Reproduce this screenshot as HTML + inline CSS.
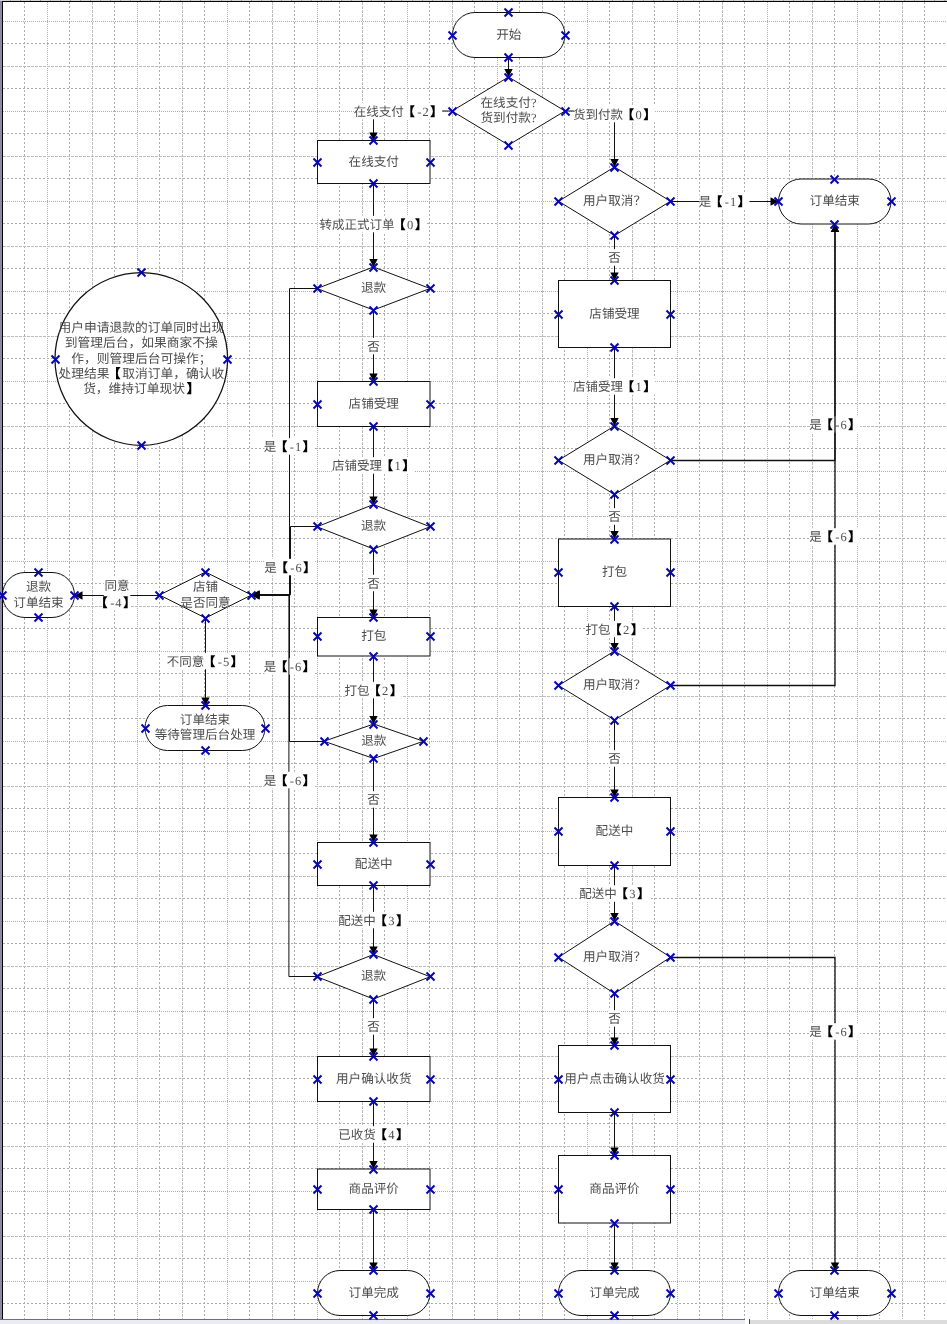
<!DOCTYPE html><html lang="zh-CN"><head><meta charset="utf-8"><title>订单流程图</title>
<style>html,body{margin:0;padding:0;background:#fff;}body{width:947px;height:1324px;overflow:hidden;position:relative;font-family:"Liberation Serif",serif;}svg{position:absolute;left:0;top:0;display:block;}.b{fill:#000;font-weight:bold;}text{filter:grayscale(1);font-family:"Liberation Serif",serif;text-anchor:middle;dominant-baseline:central;text-rendering:geometricPrecision;}</style></head><body>
<svg width="947" height="1324" viewBox="0 0 947 1324">
<rect x="0" y="0" width="947" height="1324" fill="#fff"/>
<g stroke-width="1" fill="none" shape-rendering="crispEdges"><line x1="24.5" y1="2" x2="24.5" y2="1319" stroke="#adadad" stroke-dasharray="2 2"/><line x1="47.5" y1="2" x2="47.5" y2="1319" stroke="#adadad" stroke-dasharray="1 1"/><line x1="69.5" y1="2" x2="69.5" y2="1319" stroke="#adadad" stroke-dasharray="2 2"/><line x1="92.5" y1="2" x2="92.5" y2="1319" stroke="#bcbcbc" stroke-dasharray="3 1"/><line x1="114.5" y1="2" x2="114.5" y2="1319" stroke="#adadad" stroke-dasharray="2 2"/><line x1="137.5" y1="2" x2="137.5" y2="1319" stroke="#adadad" stroke-dasharray="1 1"/><line x1="159.5" y1="2" x2="159.5" y2="1319" stroke="#adadad" stroke-dasharray="2 2"/><line x1="182.5" y1="2" x2="182.5" y2="1319" stroke="#bcbcbc" stroke-dasharray="3 1"/><line x1="204.5" y1="2" x2="204.5" y2="1319" stroke="#adadad" stroke-dasharray="2 2"/><line x1="227.5" y1="2" x2="227.5" y2="1319" stroke="#adadad" stroke-dasharray="1 1"/><line x1="249.5" y1="2" x2="249.5" y2="1319" stroke="#adadad" stroke-dasharray="2 2"/><line x1="272.5" y1="2" x2="272.5" y2="1319" stroke="#bcbcbc" stroke-dasharray="3 1"/><line x1="294.5" y1="2" x2="294.5" y2="1319" stroke="#adadad" stroke-dasharray="2 2"/><line x1="317.5" y1="2" x2="317.5" y2="1319" stroke="#adadad" stroke-dasharray="1 1"/><line x1="339.5" y1="2" x2="339.5" y2="1319" stroke="#adadad" stroke-dasharray="2 2"/><line x1="362.5" y1="2" x2="362.5" y2="1319" stroke="#bcbcbc" stroke-dasharray="3 1"/><line x1="384.5" y1="2" x2="384.5" y2="1319" stroke="#adadad" stroke-dasharray="2 2"/><line x1="407.5" y1="2" x2="407.5" y2="1319" stroke="#adadad" stroke-dasharray="1 1"/><line x1="429.5" y1="2" x2="429.5" y2="1319" stroke="#adadad" stroke-dasharray="2 2"/><line x1="452.5" y1="2" x2="452.5" y2="1319" stroke="#bcbcbc" stroke-dasharray="3 1"/><line x1="474.5" y1="2" x2="474.5" y2="1319" stroke="#adadad" stroke-dasharray="2 2"/><line x1="497.5" y1="2" x2="497.5" y2="1319" stroke="#adadad" stroke-dasharray="1 1"/><line x1="519.5" y1="2" x2="519.5" y2="1319" stroke="#adadad" stroke-dasharray="2 2"/><line x1="542.5" y1="2" x2="542.5" y2="1319" stroke="#bcbcbc" stroke-dasharray="3 1"/><line x1="564.5" y1="2" x2="564.5" y2="1319" stroke="#adadad" stroke-dasharray="2 2"/><line x1="587.5" y1="2" x2="587.5" y2="1319" stroke="#adadad" stroke-dasharray="1 1"/><line x1="609.5" y1="2" x2="609.5" y2="1319" stroke="#adadad" stroke-dasharray="2 2"/><line x1="632.5" y1="2" x2="632.5" y2="1319" stroke="#bcbcbc" stroke-dasharray="3 1"/><line x1="654.5" y1="2" x2="654.5" y2="1319" stroke="#adadad" stroke-dasharray="2 2"/><line x1="677.5" y1="2" x2="677.5" y2="1319" stroke="#adadad" stroke-dasharray="1 1"/><line x1="699.5" y1="2" x2="699.5" y2="1319" stroke="#adadad" stroke-dasharray="2 2"/><line x1="722.5" y1="2" x2="722.5" y2="1319" stroke="#bcbcbc" stroke-dasharray="3 1"/><line x1="744.5" y1="2" x2="744.5" y2="1319" stroke="#adadad" stroke-dasharray="2 2"/><line x1="767.5" y1="2" x2="767.5" y2="1319" stroke="#adadad" stroke-dasharray="1 1"/><line x1="789.5" y1="2" x2="789.5" y2="1319" stroke="#adadad" stroke-dasharray="2 2"/><line x1="812.5" y1="2" x2="812.5" y2="1319" stroke="#bcbcbc" stroke-dasharray="3 1"/><line x1="834.5" y1="2" x2="834.5" y2="1319" stroke="#adadad" stroke-dasharray="2 2"/><line x1="857.5" y1="2" x2="857.5" y2="1319" stroke="#adadad" stroke-dasharray="1 1"/><line x1="879.5" y1="2" x2="879.5" y2="1319" stroke="#adadad" stroke-dasharray="2 2"/><line x1="902.5" y1="2" x2="902.5" y2="1319" stroke="#bcbcbc" stroke-dasharray="3 1"/><line x1="924.5" y1="2" x2="924.5" y2="1319" stroke="#adadad" stroke-dasharray="2 2"/><line x1="3" y1="21.5" x2="947" y2="21.5" stroke="#adadad" stroke-dasharray="1 1"/><line x1="3" y1="43.5" x2="947" y2="43.5" stroke="#adadad" stroke-dasharray="2 2"/><line x1="3" y1="66.5" x2="947" y2="66.5" stroke="#bcbcbc" stroke-dasharray="3 1"/><line x1="3" y1="88.5" x2="947" y2="88.5" stroke="#adadad" stroke-dasharray="2 2"/><line x1="3" y1="111.5" x2="947" y2="111.5" stroke="#adadad" stroke-dasharray="1 1"/><line x1="3" y1="133.5" x2="947" y2="133.5" stroke="#adadad" stroke-dasharray="2 2"/><line x1="3" y1="156.5" x2="947" y2="156.5" stroke="#bcbcbc" stroke-dasharray="3 1"/><line x1="3" y1="178.5" x2="947" y2="178.5" stroke="#adadad" stroke-dasharray="2 2"/><line x1="3" y1="201.5" x2="947" y2="201.5" stroke="#adadad" stroke-dasharray="1 1"/><line x1="3" y1="223.5" x2="947" y2="223.5" stroke="#adadad" stroke-dasharray="2 2"/><line x1="3" y1="246.5" x2="947" y2="246.5" stroke="#bcbcbc" stroke-dasharray="3 1"/><line x1="3" y1="268.5" x2="947" y2="268.5" stroke="#adadad" stroke-dasharray="2 2"/><line x1="3" y1="291.5" x2="947" y2="291.5" stroke="#adadad" stroke-dasharray="1 1"/><line x1="3" y1="313.5" x2="947" y2="313.5" stroke="#adadad" stroke-dasharray="2 2"/><line x1="3" y1="336.5" x2="947" y2="336.5" stroke="#bcbcbc" stroke-dasharray="3 1"/><line x1="3" y1="358.5" x2="947" y2="358.5" stroke="#adadad" stroke-dasharray="2 2"/><line x1="3" y1="381.5" x2="947" y2="381.5" stroke="#adadad" stroke-dasharray="1 1"/><line x1="3" y1="403.5" x2="947" y2="403.5" stroke="#adadad" stroke-dasharray="2 2"/><line x1="3" y1="426.5" x2="947" y2="426.5" stroke="#bcbcbc" stroke-dasharray="3 1"/><line x1="3" y1="448.5" x2="947" y2="448.5" stroke="#adadad" stroke-dasharray="2 2"/><line x1="3" y1="471.5" x2="947" y2="471.5" stroke="#adadad" stroke-dasharray="1 1"/><line x1="3" y1="493.5" x2="947" y2="493.5" stroke="#adadad" stroke-dasharray="2 2"/><line x1="3" y1="516.5" x2="947" y2="516.5" stroke="#bcbcbc" stroke-dasharray="3 1"/><line x1="3" y1="538.5" x2="947" y2="538.5" stroke="#adadad" stroke-dasharray="2 2"/><line x1="3" y1="561.5" x2="947" y2="561.5" stroke="#adadad" stroke-dasharray="1 1"/><line x1="3" y1="583.5" x2="947" y2="583.5" stroke="#adadad" stroke-dasharray="2 2"/><line x1="3" y1="606.5" x2="947" y2="606.5" stroke="#bcbcbc" stroke-dasharray="3 1"/><line x1="3" y1="628.5" x2="947" y2="628.5" stroke="#adadad" stroke-dasharray="2 2"/><line x1="3" y1="651.5" x2="947" y2="651.5" stroke="#adadad" stroke-dasharray="1 1"/><line x1="3" y1="673.5" x2="947" y2="673.5" stroke="#adadad" stroke-dasharray="2 2"/><line x1="3" y1="696.5" x2="947" y2="696.5" stroke="#bcbcbc" stroke-dasharray="3 1"/><line x1="3" y1="718.5" x2="947" y2="718.5" stroke="#adadad" stroke-dasharray="2 2"/><line x1="3" y1="741.5" x2="947" y2="741.5" stroke="#adadad" stroke-dasharray="1 1"/><line x1="3" y1="763.5" x2="947" y2="763.5" stroke="#adadad" stroke-dasharray="2 2"/><line x1="3" y1="786.5" x2="947" y2="786.5" stroke="#bcbcbc" stroke-dasharray="3 1"/><line x1="3" y1="808.5" x2="947" y2="808.5" stroke="#adadad" stroke-dasharray="2 2"/><line x1="3" y1="831.5" x2="947" y2="831.5" stroke="#adadad" stroke-dasharray="1 1"/><line x1="3" y1="853.5" x2="947" y2="853.5" stroke="#adadad" stroke-dasharray="2 2"/><line x1="3" y1="876.5" x2="947" y2="876.5" stroke="#bcbcbc" stroke-dasharray="3 1"/><line x1="3" y1="898.5" x2="947" y2="898.5" stroke="#adadad" stroke-dasharray="2 2"/><line x1="3" y1="921.5" x2="947" y2="921.5" stroke="#adadad" stroke-dasharray="1 1"/><line x1="3" y1="943.5" x2="947" y2="943.5" stroke="#adadad" stroke-dasharray="2 2"/><line x1="3" y1="966.5" x2="947" y2="966.5" stroke="#bcbcbc" stroke-dasharray="3 1"/><line x1="3" y1="988.5" x2="947" y2="988.5" stroke="#adadad" stroke-dasharray="2 2"/><line x1="3" y1="1011.5" x2="947" y2="1011.5" stroke="#adadad" stroke-dasharray="1 1"/><line x1="3" y1="1033.5" x2="947" y2="1033.5" stroke="#adadad" stroke-dasharray="2 2"/><line x1="3" y1="1056.5" x2="947" y2="1056.5" stroke="#bcbcbc" stroke-dasharray="3 1"/><line x1="3" y1="1078.5" x2="947" y2="1078.5" stroke="#adadad" stroke-dasharray="2 2"/><line x1="3" y1="1101.5" x2="947" y2="1101.5" stroke="#adadad" stroke-dasharray="1 1"/><line x1="3" y1="1123.5" x2="947" y2="1123.5" stroke="#adadad" stroke-dasharray="2 2"/><line x1="3" y1="1146.5" x2="947" y2="1146.5" stroke="#bcbcbc" stroke-dasharray="3 1"/><line x1="3" y1="1168.5" x2="947" y2="1168.5" stroke="#adadad" stroke-dasharray="2 2"/><line x1="3" y1="1191.5" x2="947" y2="1191.5" stroke="#adadad" stroke-dasharray="1 1"/><line x1="3" y1="1213.5" x2="947" y2="1213.5" stroke="#adadad" stroke-dasharray="2 2"/><line x1="3" y1="1236.5" x2="947" y2="1236.5" stroke="#bcbcbc" stroke-dasharray="3 1"/><line x1="3" y1="1258.5" x2="947" y2="1258.5" stroke="#adadad" stroke-dasharray="2 2"/><line x1="3" y1="1281.5" x2="947" y2="1281.5" stroke="#adadad" stroke-dasharray="1 1"/><line x1="3" y1="1303.5" x2="947" y2="1303.5" stroke="#adadad" stroke-dasharray="2 2"/></g>
<g stroke="#111" stroke-width="1" fill="#fff"><rect x="452.5" y="12.5" width="112.5" height="45.0" rx="22.5" ry="22.5"/><polygon points="508.5,77.0 565.0,111.0 508.5,145.0 452.0,111.0"/><rect x="317.5" y="140.5" width="112.5" height="43.0"/><polygon points="373.5,267.0 430.0,288.5 373.5,310.0 317.0,288.5"/><rect x="317.5" y="381.5" width="112.5" height="45.0"/><polygon points="373.5,504.5 430.0,526.75 373.5,549.0 317.0,526.75"/><rect x="317.5" y="617.5" width="112.5" height="38.5"/><polygon points="373.75,724.0 423.5,741.25 373.75,758.5 324.0,741.25"/><rect x="317.5" y="842.5" width="112.5" height="43.0"/><polygon points="373.5,954.5 430.0,976.75 373.5,999.0 317.0,976.75"/><rect x="317.5" y="1056.5" width="112.5" height="45.0"/><rect x="317.5" y="1169.0" width="112.5" height="40.5"/><rect x="317.5" y="1270.5" width="112.5" height="45.0" rx="22.5" ry="22.5"/><polygon points="614.5,167.0 670.5,201.25 614.5,235.5 558.5,201.25"/><rect x="558.5" y="280.5" width="112.0" height="67.0"/><polygon points="614.5,426.0 670.5,460.25 614.5,494.5 558.5,460.25"/><rect x="558.5" y="539.0" width="112.0" height="67.5"/><polygon points="614.5,651.0 670.5,685.5 614.5,720.0 558.5,685.5"/><rect x="558.5" y="797.5" width="112.0" height="68.0"/><polygon points="614.5,921.0 670.5,957.25 614.5,993.5 558.5,957.25"/><rect x="558.5" y="1045.5" width="112.0" height="67.0"/><rect x="558.5" y="1155.5" width="112.0" height="67.5"/><rect x="558.5" y="1270.5" width="112.0" height="45.0" rx="22.5" ry="22.5"/><rect x="778.5" y="179.0" width="112.5" height="45.0" rx="22.5" ry="22.5"/><rect x="778.5" y="1270.5" width="112.5" height="45.0" rx="22.5" ry="22.5"/><circle cx="141.3" cy="359.0" r="86.3" stroke-width="1.25"/><polygon points="205.5,572.0 251.5,595.0 205.5,618.0 159.5,595.0"/><rect x="2.5" y="572.5" width="72.0" height="45.0" rx="22.5" ry="22.5"/><rect x="145.0" y="705.5" width="120.0" height="45.0" rx="22.5" ry="22.5"/></g>
<g><path d="M508.5,57.5 L508.5,77" fill="none" stroke="#111" stroke-width="1"/><polygon fill="#000" stroke="none" points="508.50,77.00 504.30,69.00 512.70,69.00"/><path d="M452,111 L373.5,111 L373.5,140.5" fill="none" stroke="#111" stroke-width="1"/><polygon fill="#000" stroke="none" points="373.50,140.50 369.30,132.50 377.70,132.50"/><rect x="354.6" y="102.8" width="87.5" height="16.5" fill="#fff"/><text x="398.3" y="111.60" font-size="12.5" fill="#4e4e4e">在线支付<tspan class="b" dx="-1.6">【</tspan><tspan dx="2.6">-</tspan><tspan dx="1">2</tspan><tspan class="b" dx="1.6">】</tspan></text><path d="M373.5,183.5 L373.5,267" fill="none" stroke="#111" stroke-width="1"/><polygon fill="#000" stroke="none" points="373.50,267.00 369.30,259.00 377.70,259.00"/><rect x="320.4" y="215.8" width="106.2" height="16.5" fill="#fff"/><text x="373.5" y="224.60" font-size="12.5" fill="#4e4e4e">转成正式订单<tspan class="b" dx="-1.6">【</tspan><tspan dx="1.6">0</tspan><tspan class="b" dx="1.6">】</tspan></text><path d="M373.5,310 L373.5,381.5" fill="none" stroke="#111" stroke-width="1"/><polygon fill="#000" stroke="none" points="373.50,381.50 369.30,373.50 377.70,373.50"/><rect x="367.2" y="337.8" width="12.5" height="16.5" fill="#fff"/><text x="373.5" y="346.60" font-size="12.5" fill="#4e4e4e">否</text><path d="M373.5,426.5 L373.5,504.5" fill="none" stroke="#111" stroke-width="1"/><polygon fill="#000" stroke="none" points="373.50,504.50 369.30,496.50 377.70,496.50"/><rect x="332.9" y="457.2" width="81.2" height="16.5" fill="#fff"/><text x="373.5" y="466.10" font-size="12.5" fill="#4e4e4e">店铺受理<tspan class="b" dx="-1.6">【</tspan><tspan dx="1.6">1</tspan><tspan class="b" dx="1.6">】</tspan></text><path d="M373.5,549 L373.5,617.5" fill="none" stroke="#111" stroke-width="1"/><polygon fill="#000" stroke="none" points="373.50,617.50 369.30,609.50 377.70,609.50"/><rect x="367.2" y="574.8" width="12.5" height="16.5" fill="#fff"/><text x="373.5" y="583.60" font-size="12.5" fill="#4e4e4e">否</text><path d="M373.5,656 L373.5,724" fill="none" stroke="#111" stroke-width="1"/><polygon fill="#000" stroke="none" points="373.50,724.00 369.30,716.00 377.70,716.00"/><rect x="345.4" y="681.8" width="56.2" height="16.5" fill="#fff"/><text x="373.5" y="690.60" font-size="12.5" fill="#4e4e4e">打包<tspan class="b" dx="-1.6">【</tspan><tspan dx="1.6">2</tspan><tspan class="b" dx="1.6">】</tspan></text><path d="M373.5,758.5 L373.5,842.5" fill="none" stroke="#111" stroke-width="1"/><polygon fill="#000" stroke="none" points="373.50,842.50 369.30,834.50 377.70,834.50"/><rect x="367.2" y="791.2" width="12.5" height="16.5" fill="#fff"/><text x="373.5" y="800.10" font-size="12.5" fill="#4e4e4e">否</text><path d="M373.5,885.5 L373.5,954.5" fill="none" stroke="#111" stroke-width="1"/><polygon fill="#000" stroke="none" points="373.50,954.50 369.30,946.50 377.70,946.50"/><rect x="339.1" y="911.8" width="68.8" height="16.5" fill="#fff"/><text x="373.5" y="920.60" font-size="12.5" fill="#4e4e4e">配送中<tspan class="b" dx="-1.6">【</tspan><tspan dx="1.6">3</tspan><tspan class="b" dx="1.6">】</tspan></text><path d="M373.5,999 L373.5,1056.5" fill="none" stroke="#111" stroke-width="1"/><polygon fill="#000" stroke="none" points="373.50,1056.50 369.30,1048.50 377.70,1048.50"/><rect x="367.2" y="1018.2" width="12.5" height="16.5" fill="#fff"/><text x="373.5" y="1027.10" font-size="12.5" fill="#4e4e4e">否</text><path d="M373.5,1101.5 L373.5,1169" fill="none" stroke="#111" stroke-width="1"/><polygon fill="#000" stroke="none" points="373.50,1169.00 369.30,1161.00 377.70,1161.00"/><rect x="339.1" y="1126.2" width="68.8" height="16.5" fill="#fff"/><text x="373.5" y="1135.10" font-size="12.5" fill="#4e4e4e">已收货<tspan class="b" dx="-1.6">【</tspan><tspan dx="1.6">4</tspan><tspan class="b" dx="1.6">】</tspan></text><path d="M373.5,1209.5 L373.5,1270.5" fill="none" stroke="#111" stroke-width="1"/><polygon fill="#000" stroke="none" points="373.50,1270.50 369.30,1262.50 377.70,1262.50"/><path d="M317,288.5 L289.5,288.5 L289.5,595.5 L251.5,595.5" fill="none" stroke="#111" stroke-width="1"/><polygon fill="#000" stroke="none" points="251.50,595.50 259.50,591.30 259.50,599.70"/><rect x="264.5" y="438.2" width="50.0" height="16.5" fill="#fff"/><text x="289.5" y="447.10" font-size="12.5" fill="#4e4e4e">是<tspan class="b" dx="-1.6">【</tspan><tspan dx="2.6">-</tspan><tspan dx="1">1</tspan><tspan class="b" dx="1.6">】</tspan></text><path d="M317,526.5 L290.5,526.5 L290.5,594.8 L251.5,594.8" fill="none" stroke="#111" stroke-width="1"/><polygon fill="#000" stroke="none" points="251.50,594.80 259.50,590.60 259.50,599.00"/><rect x="265.0" y="558.8" width="50.0" height="16.5" fill="#fff"/><text x="290" y="567.60" font-size="12.5" fill="#4e4e4e">是<tspan class="b" dx="-1.6">【</tspan><tspan dx="2.6">-</tspan><tspan dx="1">6</tspan><tspan class="b" dx="1.6">】</tspan></text><path d="M324,741.5 L289.5,741.5 L289.5,594.5 L251.5,594.5" fill="none" stroke="#111" stroke-width="1"/><polygon fill="#000" stroke="none" points="251.50,594.50 259.50,590.30 259.50,598.70"/><rect x="264.5" y="658.2" width="50.0" height="16.5" fill="#fff"/><text x="289.5" y="667.10" font-size="12.5" fill="#4e4e4e">是<tspan class="b" dx="-1.6">【</tspan><tspan dx="2.6">-</tspan><tspan dx="1">6</tspan><tspan class="b" dx="1.6">】</tspan></text><path d="M317,976.5 L288.9,976.5 L288.9,595 L251.5,595" fill="none" stroke="#111" stroke-width="1"/><polygon fill="#000" stroke="none" points="251.50,595.00 259.50,590.80 259.50,599.20"/><rect x="264.5" y="771.8" width="50.0" height="16.5" fill="#fff"/><text x="289.5" y="780.60" font-size="12.5" fill="#4e4e4e">是<tspan class="b" dx="-1.6">【</tspan><tspan dx="2.6">-</tspan><tspan dx="1">6</tspan><tspan class="b" dx="1.6">】</tspan></text><path d="M159.5,595.5 L74.5,595.5" fill="none" stroke="#111" stroke-width="1"/><polygon fill="#000" stroke="none" points="74.50,595.50 82.50,591.30 82.50,599.70"/><rect x="103.8" y="577.5" width="26.5" height="33" fill="#fff"/><text x="117" y="586.10" font-size="12.5" fill="#4e4e4e">同意</text><text x="117" y="603.10" font-size="12.5" fill="#4e4e4e"><tspan class="b" dx="-1.6">【</tspan><tspan dx="2.6">-</tspan><tspan dx="1">4</tspan><tspan class="b" dx="1.6">】</tspan></text><path d="M205.5,618 L205.5,705.5" fill="none" stroke="#111" stroke-width="1"/><polygon fill="#000" stroke="none" points="205.50,705.50 201.30,697.50 209.70,697.50"/><rect x="167.5" y="652.8" width="75.0" height="16.5" fill="#fff"/><text x="205" y="661.60" font-size="12.5" fill="#4e4e4e">不同意<tspan class="b" dx="-1.6">【</tspan><tspan dx="2.6">-</tspan><tspan dx="1">5</tspan><tspan class="b" dx="1.6">】</tspan></text><path d="M565,111 L614.5,111 L614.5,167" fill="none" stroke="#111" stroke-width="1"/><polygon fill="#000" stroke="none" points="614.50,167.00 610.30,159.00 618.70,159.00"/><rect x="573.9" y="105.8" width="81.2" height="16.5" fill="#fff"/><text x="614.5" y="114.60" font-size="12.5" fill="#4e4e4e">货到付款<tspan class="b" dx="-1.6">【</tspan><tspan dx="1.6">0</tspan><tspan class="b" dx="1.6">】</tspan></text><path d="M614.5,235.5 L614.5,280.5" fill="none" stroke="#111" stroke-width="1"/><polygon fill="#000" stroke="none" points="614.50,280.50 610.30,272.50 618.70,272.50"/><rect x="608.2" y="249.2" width="12.5" height="16.5" fill="#fff"/><text x="614.5" y="258.10" font-size="12.5" fill="#4e4e4e">否</text><path d="M614.5,347.5 L614.5,426" fill="none" stroke="#111" stroke-width="1"/><polygon fill="#000" stroke="none" points="614.50,426.00 610.30,418.00 618.70,418.00"/><rect x="573.9" y="378.2" width="81.2" height="16.5" fill="#fff"/><text x="614.5" y="387.10" font-size="12.5" fill="#4e4e4e">店铺受理<tspan class="b" dx="-1.6">【</tspan><tspan dx="1.6">1</tspan><tspan class="b" dx="1.6">】</tspan></text><path d="M614.5,494.5 L614.5,539" fill="none" stroke="#111" stroke-width="1"/><polygon fill="#000" stroke="none" points="614.50,539.00 610.30,531.00 618.70,531.00"/><rect x="608.2" y="508.2" width="12.5" height="16.5" fill="#fff"/><text x="614.5" y="517.10" font-size="12.5" fill="#4e4e4e">否</text><path d="M614.5,606.5 L614.5,651" fill="none" stroke="#111" stroke-width="1"/><polygon fill="#000" stroke="none" points="614.50,651.00 610.30,643.00 618.70,643.00"/><rect x="586.4" y="620.8" width="56.2" height="16.5" fill="#fff"/><text x="614.5" y="629.60" font-size="12.5" fill="#4e4e4e">打包<tspan class="b" dx="-1.6">【</tspan><tspan dx="1.6">2</tspan><tspan class="b" dx="1.6">】</tspan></text><path d="M614.5,720 L614.5,797.5" fill="none" stroke="#111" stroke-width="1"/><polygon fill="#000" stroke="none" points="614.50,797.50 610.30,789.50 618.70,789.50"/><rect x="608.2" y="750.2" width="12.5" height="16.5" fill="#fff"/><text x="614.5" y="759.10" font-size="12.5" fill="#4e4e4e">否</text><path d="M614.5,865.5 L614.5,921" fill="none" stroke="#111" stroke-width="1"/><polygon fill="#000" stroke="none" points="614.50,921.00 610.30,913.00 618.70,913.00"/><rect x="580.1" y="885.2" width="68.8" height="16.5" fill="#fff"/><text x="614.5" y="894.10" font-size="12.5" fill="#4e4e4e">配送中<tspan class="b" dx="-1.6">【</tspan><tspan dx="1.6">3</tspan><tspan class="b" dx="1.6">】</tspan></text><path d="M614.5,993.5 L614.5,1045.5" fill="none" stroke="#111" stroke-width="1"/><polygon fill="#000" stroke="none" points="614.50,1045.50 610.30,1037.50 618.70,1037.50"/><rect x="608.2" y="1010.2" width="12.5" height="16.5" fill="#fff"/><text x="614.5" y="1019.10" font-size="12.5" fill="#4e4e4e">否</text><path d="M614.5,1112.5 L614.5,1155.5" fill="none" stroke="#111" stroke-width="1"/><polygon fill="#000" stroke="none" points="614.50,1155.50 610.30,1147.50 618.70,1147.50"/><path d="M614.5,1223 L614.5,1270.5" fill="none" stroke="#111" stroke-width="1"/><polygon fill="#000" stroke="none" points="614.50,1270.50 610.30,1262.50 618.70,1262.50"/><path d="M670.5,201.5 L778.5,201.5" fill="none" stroke="#111" stroke-width="1"/><polygon fill="#000" stroke="none" points="778.50,201.50 770.50,205.70 770.50,197.30"/><rect x="699.5" y="193.2" width="50.0" height="16.5" fill="#fff"/><text x="724.5" y="202.10" font-size="12.5" fill="#4e4e4e">是<tspan class="b" dx="-1.6">【</tspan><tspan dx="2.6">-</tspan><tspan dx="1">1</tspan><tspan class="b" dx="1.6">】</tspan></text><path d="M670.5,460.5 L835.0,460.5 L835.0,224" fill="none" stroke="#111" stroke-width="1.3"/><polygon fill="#000" stroke="none" points="835.00,224.00 839.20,232.00 830.80,232.00"/><rect x="810.0" y="416.2" width="50.0" height="16.5" fill="#fff"/><text x="835.0" y="425.10" font-size="12.5" fill="#4e4e4e">是<tspan class="b" dx="-1.6">【</tspan><tspan dx="2.6">-</tspan><tspan dx="1">6</tspan><tspan class="b" dx="1.6">】</tspan></text><path d="M670.5,685.5 L835.0,685.5 L835.0,224" fill="none" stroke="#111" stroke-width="1.3"/><polygon fill="#000" stroke="none" points="835.00,224.00 839.20,232.00 830.80,232.00"/><rect x="810.0" y="528.2" width="50.0" height="16.5" fill="#fff"/><text x="835.0" y="537.10" font-size="12.5" fill="#4e4e4e">是<tspan class="b" dx="-1.6">【</tspan><tspan dx="2.6">-</tspan><tspan dx="1">6</tspan><tspan class="b" dx="1.6">】</tspan></text><path d="M670.5,957.5 L835.0,957.5 L835.0,1270.5" fill="none" stroke="#111" stroke-width="1.3"/><polygon fill="#000" stroke="none" points="835.00,1270.50 830.80,1262.50 839.20,1262.50"/><rect x="810.0" y="1023.2" width="50.0" height="16.5" fill="#fff"/><text x="835.0" y="1032.10" font-size="12.5" fill="#4e4e4e">是<tspan class="b" dx="-1.6">【</tspan><tspan dx="2.6">-</tspan><tspan dx="1">6</tspan><tspan class="b" dx="1.6">】</tspan></text></g>
<g><text x="508.75" y="34.50" font-size="12.6" fill="#4e4e4e">开始</text><text x="508.5" y="103.20" font-size="12.6" fill="#4e4e4e">在线支付?</text><text x="508.5" y="117.80" font-size="12.6" fill="#4e4e4e">货到付款?</text><text x="373.75" y="161.50" font-size="12.6" fill="#4e4e4e">在线支付</text><text x="373.5" y="288.00" font-size="12.6" fill="#4e4e4e">退款</text><text x="373.75" y="403.50" font-size="12.6" fill="#4e4e4e">店铺受理</text><text x="373.5" y="526.25" font-size="12.6" fill="#4e4e4e">退款</text><text x="373.75" y="636.25" font-size="12.6" fill="#4e4e4e">打包</text><text x="373.75" y="740.75" font-size="12.6" fill="#4e4e4e">退款</text><text x="373.75" y="863.50" font-size="12.6" fill="#4e4e4e">配送中</text><text x="373.5" y="976.25" font-size="12.6" fill="#4e4e4e">退款</text><text x="373.75" y="1078.50" font-size="12.6" fill="#4e4e4e">用户确认收货</text><text x="373.75" y="1188.75" font-size="12.6" fill="#4e4e4e">商品评价</text><text x="373.75" y="1292.50" font-size="12.6" fill="#4e4e4e">订单完成</text><text x="614.5" y="200.75" font-size="12.6" fill="#4e4e4e">用户取消？</text><text x="614.5" y="313.50" font-size="12.6" fill="#4e4e4e">店铺受理</text><text x="614.5" y="459.75" font-size="12.6" fill="#4e4e4e">用户取消？</text><text x="614.5" y="572.25" font-size="12.6" fill="#4e4e4e">打包</text><text x="614.5" y="685.00" font-size="12.6" fill="#4e4e4e">用户取消？</text><text x="614.5" y="831.00" font-size="12.6" fill="#4e4e4e">配送中</text><text x="614.5" y="956.75" font-size="12.6" fill="#4e4e4e">用户取消？</text><text x="614.5" y="1078.50" font-size="12.6" fill="#4e4e4e">用户点击确认收货</text><text x="614.5" y="1188.75" font-size="12.6" fill="#4e4e4e">商品评价</text><text x="614.5" y="1292.50" font-size="12.6" fill="#4e4e4e">订单完成</text><text x="834.75" y="201.00" font-size="12.6" fill="#4e4e4e">订单结束</text><text x="834.75" y="1292.50" font-size="12.6" fill="#4e4e4e">订单结束</text><text x="141.3" y="327.90" font-size="12.75" fill="#4e4e4e">用户申请退款的订单同时出现</text><text x="141.3" y="343.20" font-size="12.75" fill="#4e4e4e">到管理后台，如果商家不操</text><text x="141.3" y="358.50" font-size="12.75" fill="#4e4e4e">作，则管理后台可操作；</text><text x="141.3" y="373.80" font-size="12.75" fill="#4e4e4e">处理结果<tspan class="b" dx="-1.6">【</tspan><tspan dx="1.6">取</tspan>消订单，确认收</text><text x="141.3" y="389.10" font-size="12.75" fill="#4e4e4e">货，维持订单现状<tspan class="b" dx="1.6">】</tspan></text><text x="205.5" y="586.50" font-size="12.6" fill="#4e4e4e">店铺</text><text x="205.5" y="602.50" font-size="12.6" fill="#4e4e4e">是否同意</text><text x="38.5" y="586.50" font-size="12.6" fill="#4e4e4e">退款</text><text x="38.5" y="602.50" font-size="12.6" fill="#4e4e4e">订单结束</text><text x="205.0" y="720.20" font-size="12.6" fill="#4e4e4e">订单结束</text><text x="205.0" y="734.80" font-size="12.6" fill="#4e4e4e">等待管理后台处理</text></g>
<rect x="0" y="0" width="2" height="1324" fill="#8a8aa0"/>
<rect x="2" y="1" width="1" height="1318" fill="#000"/>
<rect x="0" y="0" width="947" height="1" fill="#d4d4d4"/>
<g fill="#9a9a9a"><rect x="10" y="0" width="1" height="1"/><rect x="20" y="0" width="1" height="1"/><rect x="30" y="0" width="1" height="1"/><rect x="40" y="0" width="1" height="1"/><rect x="50" y="0" width="1" height="1"/><rect x="60" y="0" width="1" height="1"/><rect x="70" y="0" width="1" height="1"/><rect x="80" y="0" width="1" height="1"/><rect x="90" y="0" width="1" height="1"/><rect x="100" y="0" width="1" height="1"/><rect x="110" y="0" width="1" height="1"/><rect x="120" y="0" width="1" height="1"/><rect x="130" y="0" width="1" height="1"/><rect x="140" y="0" width="1" height="1"/><rect x="150" y="0" width="1" height="1"/><rect x="160" y="0" width="1" height="1"/><rect x="170" y="0" width="1" height="1"/><rect x="180" y="0" width="1" height="1"/><rect x="190" y="0" width="1" height="1"/><rect x="200" y="0" width="1" height="1"/><rect x="210" y="0" width="1" height="1"/><rect x="221" y="0" width="1" height="1"/><rect x="231" y="0" width="1" height="1"/><rect x="241" y="0" width="1" height="1"/><rect x="251" y="0" width="1" height="1"/><rect x="261" y="0" width="1" height="1"/><rect x="271" y="0" width="1" height="1"/><rect x="281" y="0" width="1" height="1"/><rect x="291" y="0" width="1" height="1"/><rect x="301" y="0" width="1" height="1"/><rect x="311" y="0" width="1" height="1"/><rect x="321" y="0" width="1" height="1"/><rect x="331" y="0" width="1" height="1"/><rect x="341" y="0" width="1" height="1"/><rect x="351" y="0" width="1" height="1"/><rect x="361" y="0" width="1" height="1"/><rect x="371" y="0" width="1" height="1"/><rect x="381" y="0" width="1" height="1"/><rect x="391" y="0" width="1" height="1"/><rect x="401" y="0" width="1" height="1"/><rect x="412" y="0" width="1" height="1"/><rect x="422" y="0" width="1" height="1"/><rect x="432" y="0" width="1" height="1"/><rect x="442" y="0" width="1" height="1"/><rect x="452" y="0" width="1" height="1"/><rect x="462" y="0" width="1" height="1"/><rect x="472" y="0" width="1" height="1"/><rect x="482" y="0" width="1" height="1"/><rect x="492" y="0" width="1" height="1"/><rect x="502" y="0" width="1" height="1"/><rect x="512" y="0" width="1" height="1"/><rect x="522" y="0" width="1" height="1"/><rect x="532" y="0" width="1" height="1"/><rect x="542" y="0" width="1" height="1"/><rect x="552" y="0" width="1" height="1"/><rect x="562" y="0" width="1" height="1"/><rect x="572" y="0" width="1" height="1"/><rect x="582" y="0" width="1" height="1"/><rect x="592" y="0" width="1" height="1"/><rect x="602" y="0" width="1" height="1"/><rect x="612" y="0" width="1" height="1"/><rect x="623" y="0" width="1" height="1"/><rect x="633" y="0" width="1" height="1"/><rect x="643" y="0" width="1" height="1"/><rect x="653" y="0" width="1" height="1"/><rect x="663" y="0" width="1" height="1"/><rect x="673" y="0" width="1" height="1"/><rect x="683" y="0" width="1" height="1"/><rect x="693" y="0" width="1" height="1"/><rect x="703" y="0" width="1" height="1"/><rect x="713" y="0" width="1" height="1"/><rect x="723" y="0" width="1" height="1"/><rect x="733" y="0" width="1" height="1"/><rect x="743" y="0" width="1" height="1"/><rect x="753" y="0" width="1" height="1"/><rect x="763" y="0" width="1" height="1"/><rect x="773" y="0" width="1" height="1"/><rect x="783" y="0" width="1" height="1"/><rect x="793" y="0" width="1" height="1"/><rect x="803" y="0" width="1" height="1"/><rect x="814" y="0" width="1" height="1"/><rect x="824" y="0" width="1" height="1"/><rect x="834" y="0" width="1" height="1"/><rect x="844" y="0" width="1" height="1"/><rect x="854" y="0" width="1" height="1"/><rect x="864" y="0" width="1" height="1"/><rect x="874" y="0" width="1" height="1"/><rect x="884" y="0" width="1" height="1"/><rect x="894" y="0" width="1" height="1"/><rect x="904" y="0" width="1" height="1"/><rect x="914" y="0" width="1" height="1"/><rect x="924" y="0" width="1" height="1"/><rect x="934" y="0" width="1" height="1"/><rect x="944" y="0" width="1" height="1"/></g>
<rect x="2" y="1" width="945" height="1" fill="#000"/>
<rect x="0" y="1319" width="745" height="1" fill="#707070"/>
<rect x="0" y="1320" width="745" height="4" fill="#ebebf5"/>
<rect x="745" y="1319" width="4" height="5" fill="#fff"/>
<rect x="749" y="1319" width="1" height="5" fill="#444"/>
<rect x="750" y="1319" width="197" height="1" fill="#fff"/>
<rect x="750" y="1320" width="197" height="4" fill="#dcdcdc"/>
<g stroke="#0606b4" stroke-width="2" fill="none"><path d="M504.5,8.5 L512.5,16.5 M512.5,8.5 L504.5,16.5"/><path d="M504.5,53.5 L512.5,61.5 M512.5,53.5 L504.5,61.5"/><path d="M448.5,31.5 L456.5,39.5 M456.5,31.5 L448.5,39.5"/><path d="M561.5,31.5 L569.5,39.5 M569.5,31.5 L561.5,39.5"/><path d="M504.5,73.5 L512.5,81.5 M512.5,73.5 L504.5,81.5"/><path d="M504.5,141.5 L512.5,149.5 M512.5,141.5 L504.5,149.5"/><path d="M448.5,107.5 L456.5,115.5 M456.5,107.5 L448.5,115.5"/><path d="M561.5,107.5 L569.5,115.5 M569.5,107.5 L561.5,115.5"/><path d="M369.5,136.5 L377.5,144.5 M377.5,136.5 L369.5,144.5"/><path d="M369.5,179.5 L377.5,187.5 M377.5,179.5 L369.5,187.5"/><path d="M313.5,158.5 L321.5,166.5 M321.5,158.5 L313.5,166.5"/><path d="M426.5,158.5 L434.5,166.5 M434.5,158.5 L426.5,166.5"/><path d="M369.5,263.5 L377.5,271.5 M377.5,263.5 L369.5,271.5"/><path d="M369.5,306.5 L377.5,314.5 M377.5,306.5 L369.5,314.5"/><path d="M313.5,284.5 L321.5,292.5 M321.5,284.5 L313.5,292.5"/><path d="M426.5,284.5 L434.5,292.5 M434.5,284.5 L426.5,292.5"/><path d="M369.5,377.5 L377.5,385.5 M377.5,377.5 L369.5,385.5"/><path d="M369.5,422.5 L377.5,430.5 M377.5,422.5 L369.5,430.5"/><path d="M313.5,400.5 L321.5,408.5 M321.5,400.5 L313.5,408.5"/><path d="M426.5,400.5 L434.5,408.5 M434.5,400.5 L426.5,408.5"/><path d="M369.5,500.5 L377.5,508.5 M377.5,500.5 L369.5,508.5"/><path d="M369.5,545.5 L377.5,553.5 M377.5,545.5 L369.5,553.5"/><path d="M313.5,522.5 L321.5,530.5 M321.5,522.5 L313.5,530.5"/><path d="M426.5,522.5 L434.5,530.5 M434.5,522.5 L426.5,530.5"/><path d="M369.5,613.5 L377.5,621.5 M377.5,613.5 L369.5,621.5"/><path d="M369.5,652.5 L377.5,660.5 M377.5,652.5 L369.5,660.5"/><path d="M313.5,632.5 L321.5,640.5 M321.5,632.5 L313.5,640.5"/><path d="M426.5,632.5 L434.5,640.5 M434.5,632.5 L426.5,640.5"/><path d="M369.5,838.5 L377.5,846.5 M377.5,838.5 L369.5,846.5"/><path d="M369.5,881.5 L377.5,889.5 M377.5,881.5 L369.5,889.5"/><path d="M313.5,860.5 L321.5,868.5 M321.5,860.5 L313.5,868.5"/><path d="M426.5,860.5 L434.5,868.5 M434.5,860.5 L426.5,868.5"/><path d="M369.5,950.5 L377.5,958.5 M377.5,950.5 L369.5,958.5"/><path d="M369.5,995.5 L377.5,1003.5 M377.5,995.5 L369.5,1003.5"/><path d="M313.5,972.5 L321.5,980.5 M321.5,972.5 L313.5,980.5"/><path d="M426.5,972.5 L434.5,980.5 M434.5,972.5 L426.5,980.5"/><path d="M369.5,1052.5 L377.5,1060.5 M377.5,1052.5 L369.5,1060.5"/><path d="M369.5,1097.5 L377.5,1105.5 M377.5,1097.5 L369.5,1105.5"/><path d="M313.5,1075.5 L321.5,1083.5 M321.5,1075.5 L313.5,1083.5"/><path d="M426.5,1075.5 L434.5,1083.5 M434.5,1075.5 L426.5,1083.5"/><path d="M369.5,1165.5 L377.5,1173.5 M377.5,1165.5 L369.5,1173.5"/><path d="M369.5,1205.5 L377.5,1213.5 M377.5,1205.5 L369.5,1213.5"/><path d="M313.5,1185.5 L321.5,1193.5 M321.5,1185.5 L313.5,1193.5"/><path d="M426.5,1185.5 L434.5,1193.5 M434.5,1185.5 L426.5,1193.5"/><path d="M369.5,1266.5 L377.5,1274.5 M377.5,1266.5 L369.5,1274.5"/><path d="M369.5,1311.5 L377.5,1319.5 M377.5,1311.5 L369.5,1319.5"/><path d="M313.5,1289.5 L321.5,1297.5 M321.5,1289.5 L313.5,1297.5"/><path d="M426.5,1289.5 L434.5,1297.5 M434.5,1289.5 L426.5,1297.5"/><path d="M369.5,720.5 L377.5,728.5 M377.5,720.5 L369.5,728.5"/><path d="M369.5,754.5 L377.5,762.5 M377.5,754.5 L369.5,762.5"/><path d="M320.5,737.5 L328.5,745.5 M328.5,737.5 L320.5,745.5"/><path d="M419.5,737.5 L427.5,745.5 M427.5,737.5 L419.5,745.5"/><path d="M610.5,163.5 L618.5,171.5 M618.5,163.5 L610.5,171.5"/><path d="M610.5,231.5 L618.5,239.5 M618.5,231.5 L610.5,239.5"/><path d="M554.5,197.5 L562.5,205.5 M562.5,197.5 L554.5,205.5"/><path d="M666.5,197.5 L674.5,205.5 M674.5,197.5 L666.5,205.5"/><path d="M610.5,276.5 L618.5,284.5 M618.5,276.5 L610.5,284.5"/><path d="M610.5,343.5 L618.5,351.5 M618.5,343.5 L610.5,351.5"/><path d="M554.5,310.5 L562.5,318.5 M562.5,310.5 L554.5,318.5"/><path d="M666.5,310.5 L674.5,318.5 M674.5,310.5 L666.5,318.5"/><path d="M610.5,422.5 L618.5,430.5 M618.5,422.5 L610.5,430.5"/><path d="M610.5,490.5 L618.5,498.5 M618.5,490.5 L610.5,498.5"/><path d="M554.5,456.5 L562.5,464.5 M562.5,456.5 L554.5,464.5"/><path d="M666.5,456.5 L674.5,464.5 M674.5,456.5 L666.5,464.5"/><path d="M610.5,535.5 L618.5,543.5 M618.5,535.5 L610.5,543.5"/><path d="M610.5,602.5 L618.5,610.5 M618.5,602.5 L610.5,610.5"/><path d="M554.5,568.5 L562.5,576.5 M562.5,568.5 L554.5,576.5"/><path d="M666.5,568.5 L674.5,576.5 M674.5,568.5 L666.5,576.5"/><path d="M610.5,647.5 L618.5,655.5 M618.5,647.5 L610.5,655.5"/><path d="M610.5,716.5 L618.5,724.5 M618.5,716.5 L610.5,724.5"/><path d="M554.5,681.5 L562.5,689.5 M562.5,681.5 L554.5,689.5"/><path d="M666.5,681.5 L674.5,689.5 M674.5,681.5 L666.5,689.5"/><path d="M610.5,793.5 L618.5,801.5 M618.5,793.5 L610.5,801.5"/><path d="M610.5,861.5 L618.5,869.5 M618.5,861.5 L610.5,869.5"/><path d="M554.5,827.5 L562.5,835.5 M562.5,827.5 L554.5,835.5"/><path d="M666.5,827.5 L674.5,835.5 M674.5,827.5 L666.5,835.5"/><path d="M610.5,917.5 L618.5,925.5 M618.5,917.5 L610.5,925.5"/><path d="M610.5,989.5 L618.5,997.5 M618.5,989.5 L610.5,997.5"/><path d="M554.5,953.5 L562.5,961.5 M562.5,953.5 L554.5,961.5"/><path d="M666.5,953.5 L674.5,961.5 M674.5,953.5 L666.5,961.5"/><path d="M610.5,1041.5 L618.5,1049.5 M618.5,1041.5 L610.5,1049.5"/><path d="M610.5,1108.5 L618.5,1116.5 M618.5,1108.5 L610.5,1116.5"/><path d="M554.5,1075.5 L562.5,1083.5 M562.5,1075.5 L554.5,1083.5"/><path d="M666.5,1075.5 L674.5,1083.5 M674.5,1075.5 L666.5,1083.5"/><path d="M610.5,1151.5 L618.5,1159.5 M618.5,1151.5 L610.5,1159.5"/><path d="M610.5,1219.5 L618.5,1227.5 M618.5,1219.5 L610.5,1227.5"/><path d="M554.5,1185.5 L562.5,1193.5 M562.5,1185.5 L554.5,1193.5"/><path d="M666.5,1185.5 L674.5,1193.5 M674.5,1185.5 L666.5,1193.5"/><path d="M610.5,1266.5 L618.5,1274.5 M618.5,1266.5 L610.5,1274.5"/><path d="M610.5,1311.5 L618.5,1319.5 M618.5,1311.5 L610.5,1319.5"/><path d="M554.5,1289.5 L562.5,1297.5 M562.5,1289.5 L554.5,1297.5"/><path d="M666.5,1289.5 L674.5,1297.5 M674.5,1289.5 L666.5,1297.5"/><path d="M830.5,175.5 L838.5,183.5 M838.5,175.5 L830.5,183.5"/><path d="M830.5,220.5 L838.5,228.5 M838.5,220.5 L830.5,228.5"/><path d="M774.5,197.5 L782.5,205.5 M782.5,197.5 L774.5,205.5"/><path d="M887.5,197.5 L895.5,205.5 M895.5,197.5 L887.5,205.5"/><path d="M830.5,1266.5 L838.5,1274.5 M838.5,1266.5 L830.5,1274.5"/><path d="M830.5,1311.5 L838.5,1319.5 M838.5,1311.5 L830.5,1319.5"/><path d="M774.5,1289.5 L782.5,1297.5 M782.5,1289.5 L774.5,1297.5"/><path d="M887.5,1289.5 L895.5,1297.5 M895.5,1289.5 L887.5,1297.5"/><path d="M137.5,268.5 L145.5,276.5 M145.5,268.5 L137.5,276.5"/><path d="M137.5,441.5 L145.5,449.5 M145.5,441.5 L137.5,449.5"/><path d="M51.5,355.5 L59.5,363.5 M59.5,355.5 L51.5,363.5"/><path d="M223.5,355.5 L231.5,363.5 M231.5,355.5 L223.5,363.5"/><path d="M201.5,568.5 L209.5,576.5 M209.5,568.5 L201.5,576.5"/><path d="M201.5,614.5 L209.5,622.5 M209.5,614.5 L201.5,622.5"/><path d="M155.5,591.5 L163.5,599.5 M163.5,591.5 L155.5,599.5"/><path d="M247.5,591.5 L255.5,599.5 M255.5,591.5 L247.5,599.5"/><path d="M34.5,568.5 L42.5,576.5 M42.5,568.5 L34.5,576.5"/><path d="M34.5,613.5 L42.5,621.5 M42.5,613.5 L34.5,621.5"/><path d="M-1.5,591.5 L6.5,599.5 M6.5,591.5 L-1.5,599.5"/><path d="M70.5,591.5 L78.5,599.5 M78.5,591.5 L70.5,599.5"/><path d="M201.5,701.5 L209.5,709.5 M209.5,701.5 L201.5,709.5"/><path d="M201.5,746.5 L209.5,754.5 M209.5,746.5 L201.5,754.5"/><path d="M141.5,724.5 L149.5,732.5 M149.5,724.5 L141.5,732.5"/><path d="M261.5,724.5 L269.5,732.5 M269.5,724.5 L261.5,732.5"/></g>
</svg></body></html>
